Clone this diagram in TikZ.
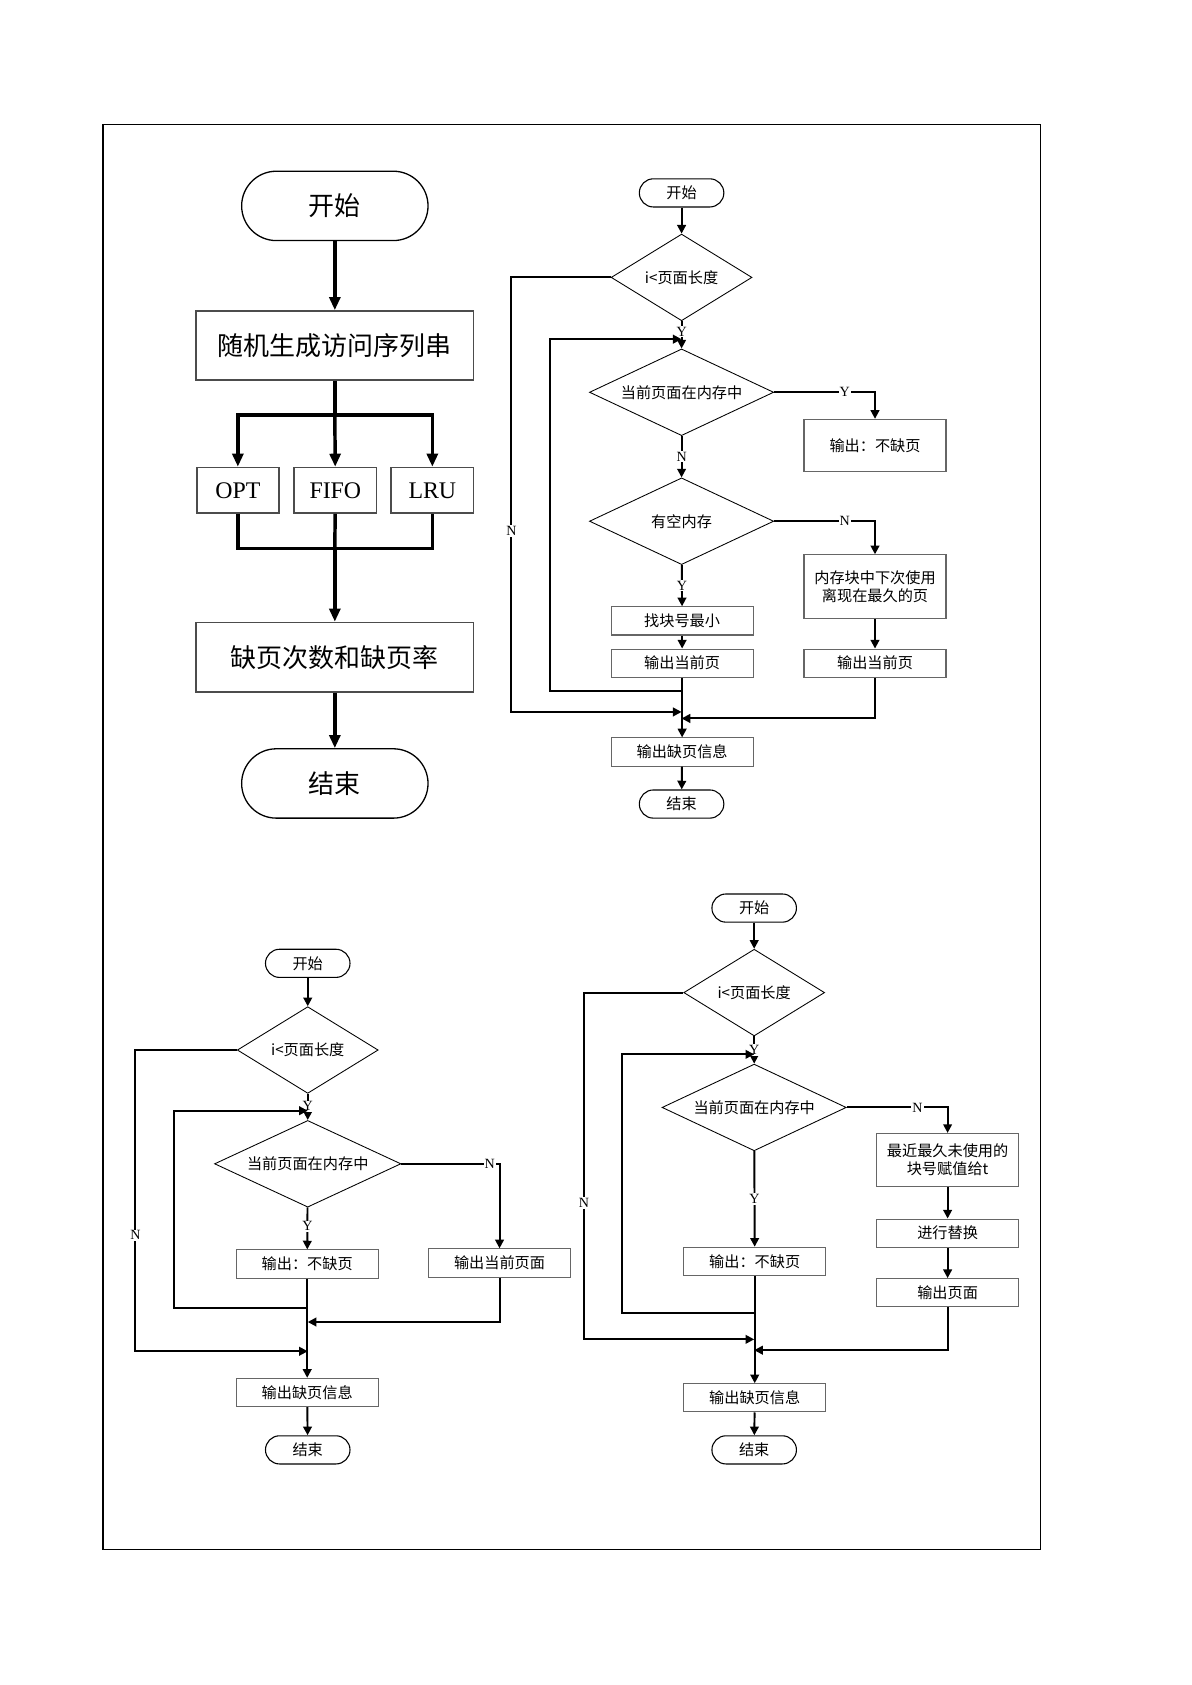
\documentclass[tikz,border=0pt]{standalone}
\usepackage{fontspec}
\setmainfont{Liberation Serif}
\newfontfamily\cjk{Noto Sans CJK SC}
\usetikzlibrary{shapes.geometric,arrows.meta}
\begin{document}
\begin{tikzpicture}[x=0.5pt,y=-0.5pt,
 big/.style={draw=black!70,line width=0.8pt,minimum width=128pt,minimum height=32pt,font=\cjk\fontsize{12}{14}\selectfont},
 bigs/.style={big,minimum width=38pt,minimum height=21pt,font=\fontsize{11}{13}\selectfont},
 bigr/.style={draw,line width=0.6pt,rounded corners=16pt,minimum width=86pt,minimum height=32pt,font=\cjk\fontsize{12}{14}\selectfont},
 tl/.style={line width=1.6pt,-{Triangle[length=6pt,width=5pt]}},
 tn/.style={line width=1.6pt},
 box/.style={draw=black!60,line width=0.5pt,minimum width=65.5pt,minimum height=13pt,font=\cjk\fontsize{7}{8.5}\selectfont,align=center,inner sep=1pt},
 term/.style={draw,line width=0.5pt,rounded corners=6.5pt,minimum width=39pt,minimum height=13pt,font=\cjk\fontsize{7}{8.5}\selectfont,inner sep=1pt},
 sm/.style={diamond,draw,line width=0.4pt,aspect=1.625,minimum width=65pt,minimum height=40pt,inner sep=0pt,font=\cjk\fontsize{7}{8.5}\selectfont},
 dia/.style={diamond,draw,line width=0.4pt,aspect=2.125,minimum width=85pt,minimum height=40pt,inner sep=0pt,font=\cjk\fontsize{7}{8.5}\selectfont},
 ar/.style={line width=0.9pt,-{Triangle[length=4pt,width=4pt]}},
 ln/.style={line width=0.9pt},
 lab/.style={fill=white,inner sep=0.5pt,font=\fontsize{6.5}{7}\selectfont}]
\useasboundingbox (0,0) rectangle (1100,1555);
\draw[line width=0.6pt] (95,115) rectangle (960,1430);
% ---- top left
\node[bigr] (s0) at (309,190) {开始};
\node[big] (g) at (309,319) {随机生成访问序列串};
\node[bigs] (opt) at (219.5,452.5) {OPT};
\node[bigs] (fifo) at (309.5,452.5) {FIFO};
\node[bigs] (lru) at (399,452.5) {LRU};
\node[big] (q) at (309,606.5) {缺页次数和缺页率};
\node[bigr] (e0) at (309,723) {结束};
\draw[tl] (s0) -- (g);
\coordinate (b1) at (309,383); \coordinate (b2) at (309,506);
\draw[tn] (g) -- (b1);
\draw[tl] (b1) -| (opt); \draw[tl] (b1) -- (fifo); \draw[tl] (b1) -| (lru);
\draw[tn] (opt) |- (b2); \draw[tn] (lru) |- (b2); \draw[tn] (fifo) -- (b2);
\draw[tl] (b2) -- (q);
\draw[tl] (q) -- (e0);
% ---- top right
\node[term] (s1) at (629,178) {开始};
\node[sm] (d11) at (629,256) {i<页面长度};
\node[dia] (d12) at (629,362) {当前页面在内存中};
\node[dia] (d13) at (629,481) {有空内存};
\node[box,minimum height=24pt] (r1) at (807.5,411) {输出：不缺页};
\node[box,minimum height=29.5pt] (r2) at (807.5,541.5) {内存块中下次使用\\离现在最久的页};
\node[box] (l1) at (629.5,573) {找块号最小};
\node[box] (l2) at (629.5,612) {输出当前页};
\node[box] (r3) at (807.5,612) {输出当前页};
\node[box] (o1) at (629.5,694) {输出缺页信息};
\node[term] (e1) at (629,742) {结束};
\draw[ar] (s1) -- (d11);
\coordinate (y1) at (629,313);
\draw[ln] (d11) -- (y1); \draw[ar] (y1) -- (d12);
\node[lab] at (629,306) {Y};
\draw[ar] (d12.east) -| node[lab,pos=0.35]{Y} (r1);
\draw[ar] (d12) -- node[lab]{N} (d13);
\draw[ar] (d13.east) -| node[lab,pos=0.35]{N} (r2);
\draw[ar] (d13) -- node[lab]{Y} (l1);
\draw[ar] (l1) -- (l2);
\draw[ar] (r2) -- (r3);
\draw[ar] (l2) -- (o1);
\draw[ar] (o1) -- (e1);
\coordinate (c1) at (629,638); \coordinate (c2) at (629,657); \coordinate (c3) at (629,663);
\draw[ar] (c1) -| (508,313) -- (y1);
\draw[ar] (d11.west) -| (472,657) -- (c2);
\node[lab] at (472,490) {N};
\draw[ar] (r3) |- (c3);
% ---- bottom left
\node[term] (s2) at (284,889) {开始};
\node[sm] (d21) at (284,969) {i<页面长度};
\node[dia,minimum width=86pt,aspect=2.15] (d22) at (284,1074) {当前页面在内存中};
\node[box] (b21) at (283.5,1166.5) {输出：不缺页};
\node[box] (b22) at (461,1165.5) {输出当前页面};
\node[box] (o2) at (283.5,1285) {输出缺页信息};
\node[term] (e2) at (284,1338) {结束};
\draw[ar] (s2) -- (d21);
\coordinate (y2) at (284,1025);
\draw[ln] (d21) -- (y2); \draw[ar] (y2) -- (d22);
\node[lab] at (284,1021) {Y};
\draw[ar] (d22.east) -| node[lab,pos=0.45]{N} (b22);
\draw[ar] (d22) -- node[lab,pos=0.45]{Y} (b21);
\draw[ar] (b21) -- (o2);
\draw[ar] (o2) -- (e2);
\coordinate (c4) at (284,1207); \coordinate (c5) at (284,1220); \coordinate (c6) at (284,1247);
\draw[ar] (c4) -| (161,1025) -- (y2);
\draw[ar] (b22) |- (c5);
\draw[ar] (d21.west) -| (125,1247) -- (c6);
\node[lab] at (125,1140) {N};
% ---- bottom right
\node[term] (s3) at (696,838) {开始};
\node[sm] (d31) at (696,916) {i<页面长度};
\node[dia] (d32) at (696,1022) {当前页面在内存中};
\node[box,minimum height=24.5pt] (r31) at (874.5,1070.5) {最近最久未使用的\\块号赋值给t};
\node[box] (r32) at (874.5,1138) {进行替换};
\node[box] (r33) at (874.5,1193) {输出页面};
\node[box] (b31) at (696.5,1164) {输出：不缺页};
\node[box] (o3) at (696.5,1290) {输出缺页信息};
\node[term] (e3) at (696,1338) {结束};
\draw[ar] (s3) -- (d31);
\coordinate (y3) at (696,973);
\draw[ln] (d31) -- (y3); \draw[ar] (y3) -- (d32);
\node[lab] at (696,969) {Y};
\draw[ar] (d32.east) -| node[lab,pos=0.35]{N} (r31);
\draw[ar] (r31) -- (r32);
\draw[ar] (r32) -- (r33);
\draw[ar] (d32) -- node[lab,pos=0.5]{Y} (b31);
\draw[ar] (b31) -- (o3);
\draw[ar] (o3) -- (e3);
\coordinate (c7) at (696,1212); \coordinate (c8) at (696,1236); \coordinate (c9) at (696,1246);
\draw[ar] (c7) -| (574,973) -- (y3);
\draw[ar] (d31.west) -| (539,1236) -- (c8);
\node[lab] at (539,1110) {N};
\draw[ar] (r33) |- (c9);
\end{tikzpicture}
\end{document}
